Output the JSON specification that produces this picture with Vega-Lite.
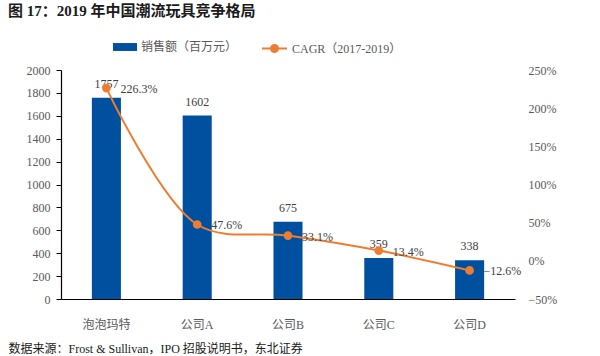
{
  "$schema": "https://vega.github.io/schema/vega-lite/v6.json",
  "width": 454,
  "height": 229,
  "autosize": "none",
  "padding": {"left": 61, "top": 70, "right": 85, "bottom": 57},
  "background": "white",
  "config": {
    "view": {"stroke": null},
    "font": "Liberation Serif, Noto Sans CJK SC",
    "axis": {"labelFont": "Liberation Serif, Noto Sans CJK SC", "titleFont": "Liberation Serif, Noto Sans CJK SC"},
    "legend": {"labelFont": "Liberation Serif, Noto Sans CJK SC"}
  },
  "title": {
    "text": "图  17：2019 年中国潮流玩具竞争格局",
    "anchor": "start",
    "frame": "group",
    "dx": -53,
    "offset": 16,
    "font": "Liberation Serif, Noto Sans CJK SC",
    "fontSize": 15,
    "fontWeight": "bold",
    "color": "#1a1a1a"
  },
  "data": {
    "values": [
      {"company": "泡泡玛特", "sales": 1757, "cagr": 2.263},
      {"company": "公司A", "sales": 1602, "cagr": 0.476},
      {"company": "公司B", "sales": 675, "cagr": 0.331},
      {"company": "公司C", "sales": 359, "cagr": 0.134},
      {"company": "公司D", "sales": 338, "cagr": -0.126}
    ]
  },
  "encoding": {
    "x": {
      "field": "company",
      "type": "nominal",
      "sort": null,
      "scale": {"paddingInner": 0, "paddingOuter": 0},
      "axis": {
        "title": "数据来源：Frost & Sullivan，IPO 招股说明书，东北证券",
        "titleAnchor": "start",
        "titleAlign": "left",
        "titleX": -53,
        "titleY": 49,
        "titleBaseline": "middle",
        "titleFontSize": 12,
        "titleFontWeight": "normal",
        "titleColor": "#1a1a1a",
        "labelAngle": 0,
        "labelFontSize": 12,
        "labelColor": "#595959",
        "labelPadding": 20,
        "ticks": false,
        "tickSize": 0,
        "domainColor": "#000000",
        "domainWidth": 1.2
      }
    }
  },
  "layer": [
    {
      "encoding": {
        "y": {
          "field": "sales",
          "type": "quantitative",
          "scale": {"domain": [0, 2000], "nice": false},
          "axis": {
            "title": null,
            "values": [0, 200, 400, 600, 800, 1000, 1200, 1400, 1600, 1800, 2000],
            "format": "d",
            "grid": false,
            "domainColor": "#000000",
            "domainWidth": 1.2,
            "tickColor": "#000000",
            "tickSize": 5,
            "labelFontSize": 12,
            "labelColor": "#595959",
            "labelPadding": 6
          }
        }
      },
      "layer": [
        {
          "mark": {"type": "bar", "width": {"band": 0.32}},
          "encoding": {
            "fill": {
              "datum": "销售额（百万元）",
              "scale": {"range": ["#0050A0"]},
              "legend": {
                "title": null,
                "orient": "none",
                "legendX": 52,
                "legendY": -35,
                "symbolType": "M-1,-0.33L1,-0.33L1,0.33L-1,0.33Z",
                "symbolSize": 576,
                "symbolStrokeWidth": 0,
                "labelFontSize": 12,
                "labelColor": "#595959",
                "labelOffset": 4
              }
            }
          }
        },
        {
          "mark": {"type": "text", "baseline": "alphabetic", "dy": -10, "fontSize": 12, "color": "#404040"},
          "encoding": {"text": {"field": "sales", "type": "quantitative"}}
        }
      ]
    },
    {
      "encoding": {
        "y": {
          "field": "cagr",
          "type": "quantitative",
          "scale": {"domain": [-0.5, 2.5], "nice": false},
          "axis": {
            "title": null,
            "orient": "right",
            "values": [-0.5, 0, 0.5, 1, 1.5, 2, 2.5],
            "format": ".0%",
            "grid": false,
            "domain": false,
            "ticks": false,
            "labelFontSize": 12,
            "labelColor": "#595959",
            "labelPadding": 13
          }
        }
      },
      "layer": [
        {
          "mark": {
            "type": "line",
            "interpolate": "catmull-rom",
            "strokeWidth": 2,
            "point": {"filled": true, "fill": "#ED7D31", "size": 45}
          },
          "encoding": {
            "stroke": {
              "datum": "CAGR（2017-2019）",
              "scale": {"range": ["#ED7D31"]},
              "legend": {
                "title": null,
                "orient": "none",
                "legendX": 200,
                "legendY": -35,
                "symbolType": "M-1,0L1,0M0.28,0A0.28,0.28,0,1,1,-0.28,0A0.28,0.28,0,1,1,0.28,0",
                "symbolSize": 625,
                "symbolStrokeWidth": 2,
                "symbolFillColor": "#ED7D31",
                "labelFontSize": 12,
                "labelColor": "#595959",
                "labelOffset": 4
              }
            }
          }
        },
        {
          "mark": {"type": "text", "align": "left", "baseline": "middle", "dx": 14, "dy": 1, "fontSize": 12, "color": "#404040"},
          "encoding": {"text": {"field": "cagr", "type": "quantitative", "format": ".1%"}}
        }
      ]
    }
  ],
  "resolve": {"scale": {"y": "independent"}}
}
